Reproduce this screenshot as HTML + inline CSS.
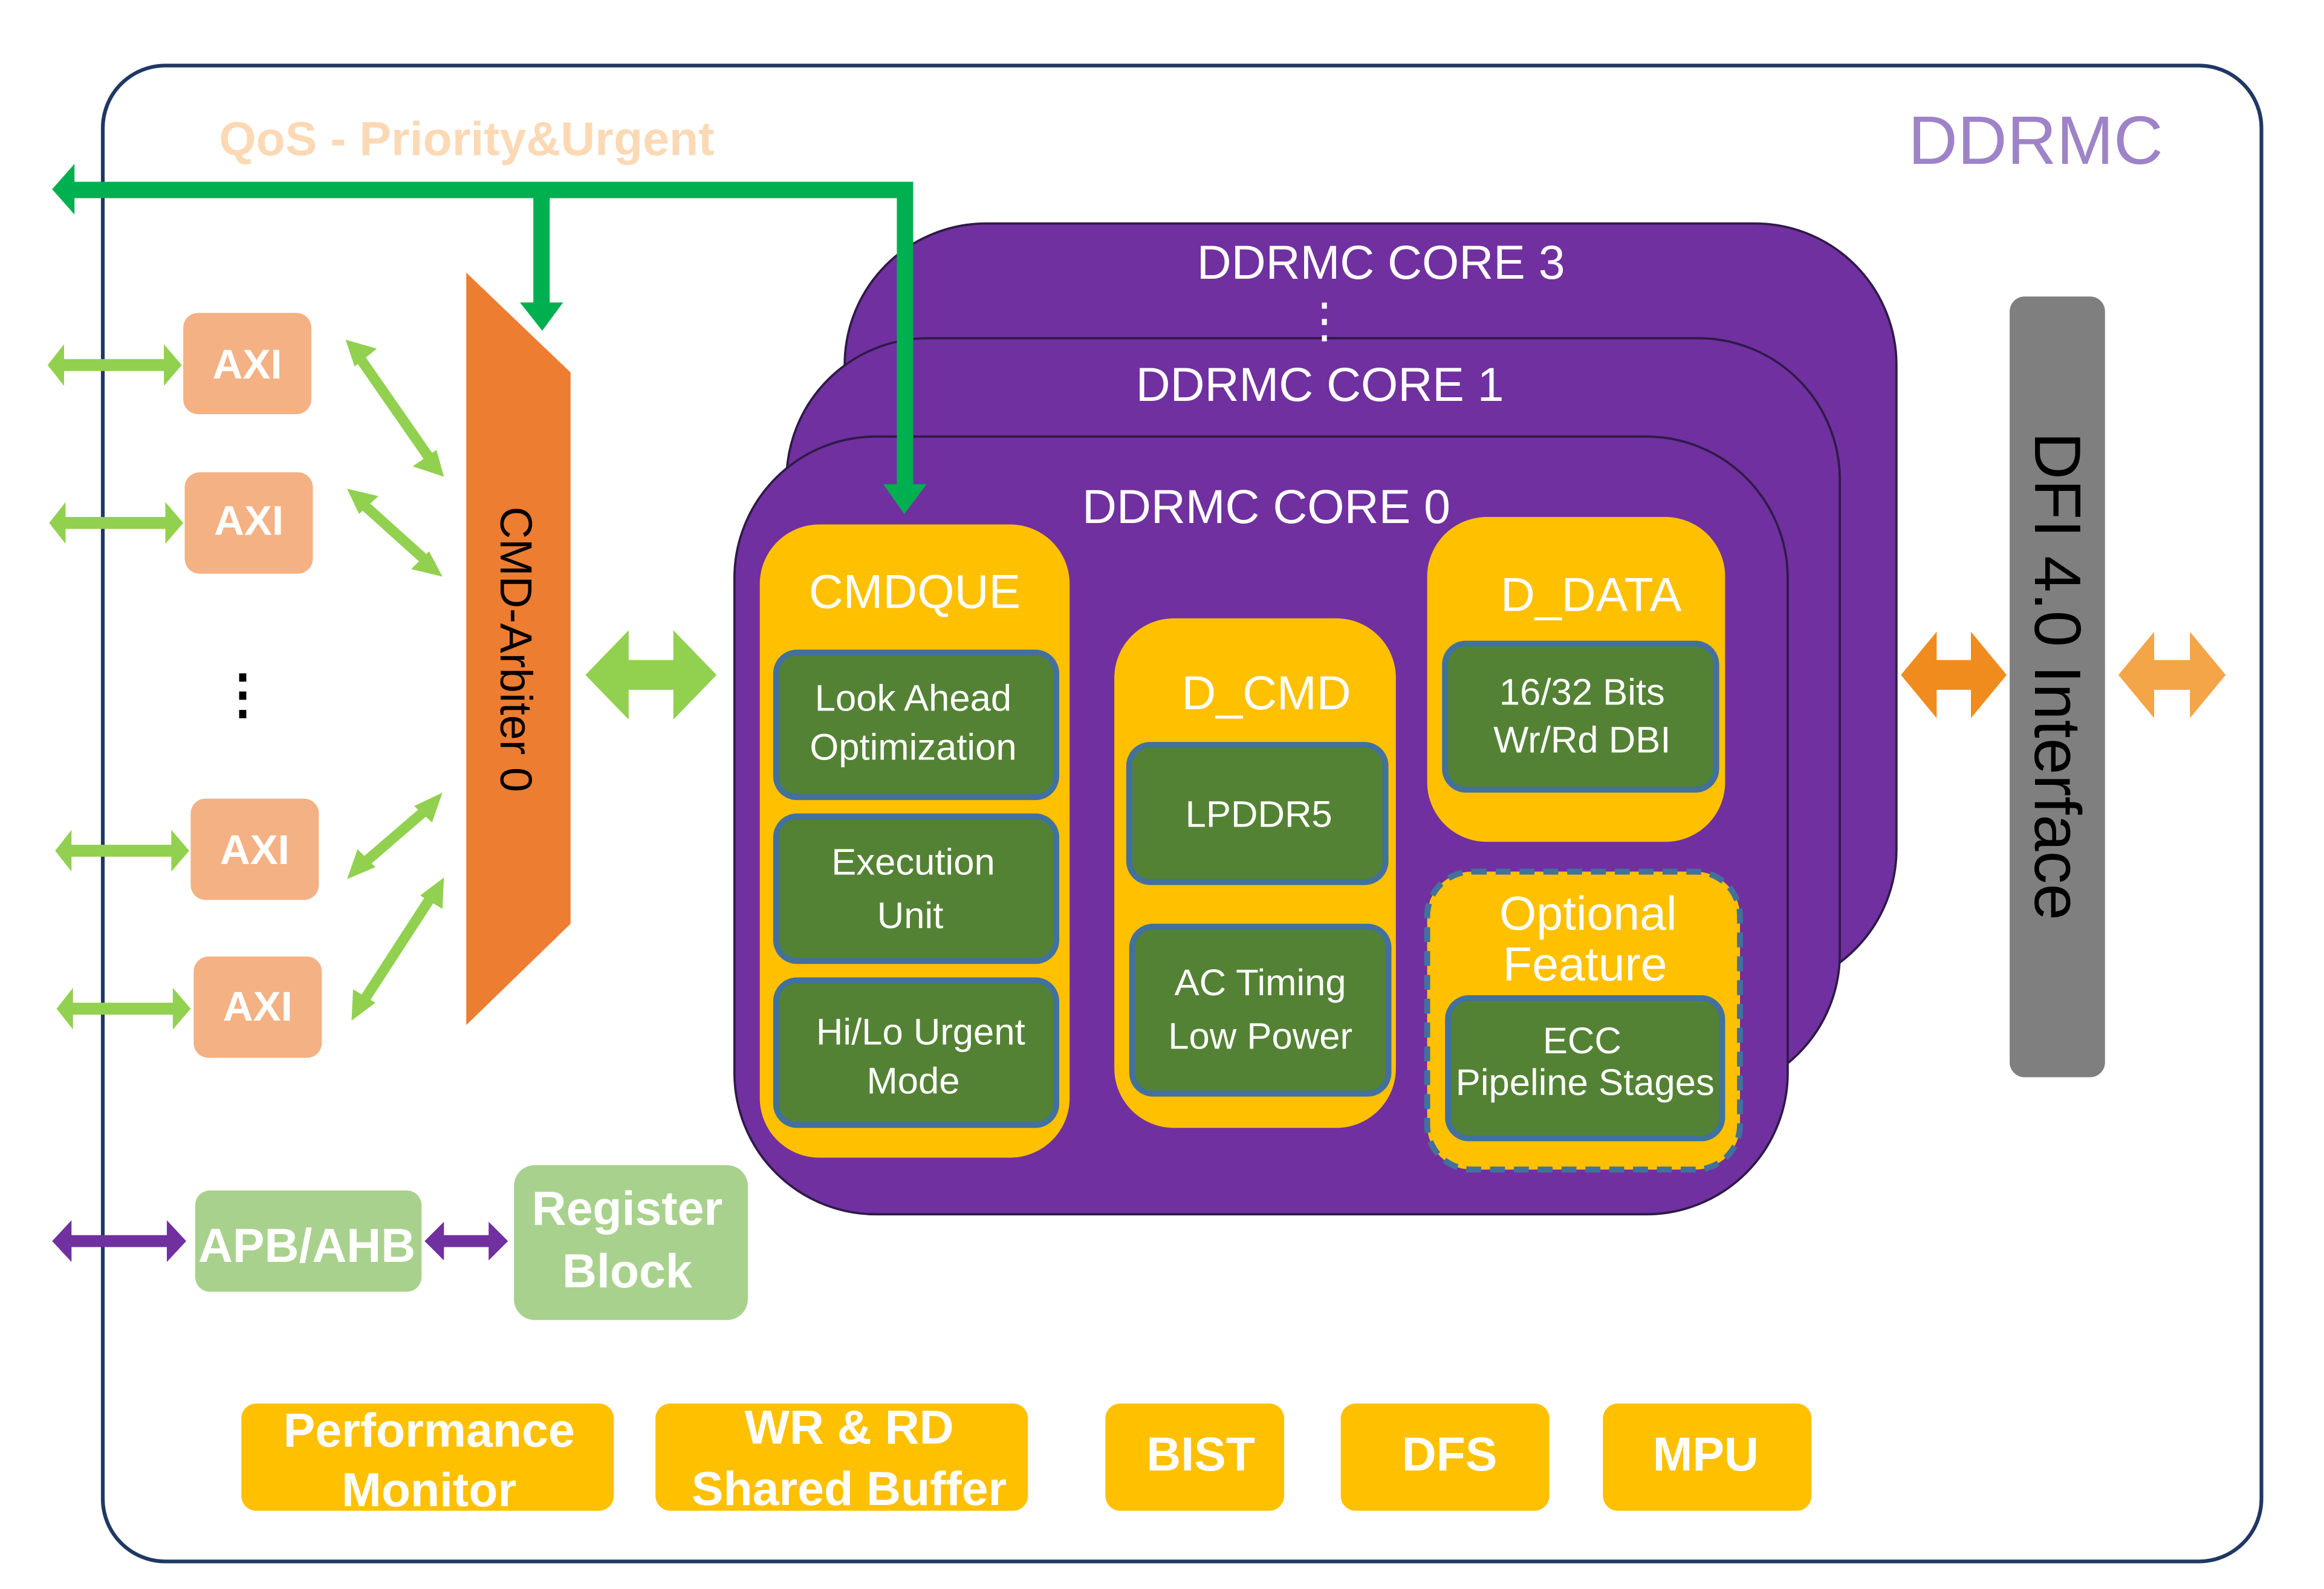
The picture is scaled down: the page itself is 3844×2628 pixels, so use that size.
<!DOCTYPE html>
<html><head><style>html,body{margin:0;padding:0;background:#fff}svg{display:block}</style></head>
<body>
<svg width="3844" height="2628" viewBox="0 0 1560 1066.5" preserveAspectRatio="none" xmlns="http://www.w3.org/2000/svg" font-family="Liberation Sans, sans-serif">
<rect x="69" y="44" width="1449" height="1004" rx="42" fill="#fff" stroke="#1f3864" stroke-width="2.5"/>
<text x="1452" y="110" text-anchor="end" font-size="46" fill="#9e83c8">DDRMC</text>
<text x="147" y="104" font-size="32" font-weight="bold" fill="#fcd9b5">QoS - Priority&amp;Urgent</text>

<!-- cores -->
<rect x="567" y="150" width="706" height="515" rx="95" fill="#7030a0" stroke="#2e1a47" stroke-width="1.5"/>
<rect x="528" y="227" width="707" height="508" rx="95" fill="#7030a0" stroke="#2e1a47" stroke-width="1.5"/>
<rect x="493" y="293" width="707" height="522" rx="95" fill="#7030a0" stroke="#2e1a47" stroke-width="1.5"/>
<text x="927" y="187" text-anchor="middle" font-size="32" fill="#fff">DDRMC CORE 3</text>
<text x="889" y="226" text-anchor="middle" font-size="32" fill="#fff">⋮</text>
<text x="886" y="269" text-anchor="middle" font-size="32" fill="#fff">DDRMC CORE 1</text>
<text x="850" y="351" text-anchor="middle" font-size="32" fill="#fff">DDRMC CORE 0</text>

<!-- CMDQUE -->
<rect x="510" y="352" width="208" height="425" rx="40" fill="#ffc000"/>
<text x="614" y="408" text-anchor="middle" font-size="32" fill="#fff">CMDQUE</text>
<g fill="#548235" stroke="#41719c" stroke-width="4">
<rect x="521" y="438" width="188" height="97" rx="14"/>
<rect x="521" y="548" width="188" height="97" rx="14"/>
<rect x="521" y="658" width="188" height="97" rx="14"/>
<rect x="758" y="500" width="172" height="92" rx="14"/>
<rect x="760" y="622" width="172" height="112" rx="14"/>
</g>
<g font-size="25" fill="#fff" text-anchor="middle">
<text x="613" y="477">Look Ahead</text><text x="613" y="510">Optimization</text>
<text x="613" y="587">Execution</text><text x="611" y="623">Unit</text>
<text x="618" y="701">Hi/Lo Urgent</text><text x="613" y="734">Mode</text>
</g>

<!-- D_CMD -->
<rect x="748" y="415" width="189" height="342" rx="40" fill="#ffc000"/>
<g fill="#548235" stroke="#41719c" stroke-width="4">
<rect x="758" y="500" width="172" height="92" rx="14"/>
<rect x="760" y="622" width="172" height="112" rx="14"/>
</g>
<text x="850" y="476" text-anchor="middle" font-size="32" fill="#fff">D_CMD</text>
<g font-size="25" fill="#fff" text-anchor="middle">
<text x="845" y="555">LPDDR5</text>
<text x="846" y="668">AC Timing</text><text x="846" y="704">Low Power</text>
</g>

<!-- D_DATA -->
<rect x="958" y="347" width="200" height="218" rx="40" fill="#ffc000"/>
<text x="1068" y="410" text-anchor="middle" font-size="32" fill="#fff">D_DATA</text>
<rect x="970" y="432" width="182" height="98" rx="14" fill="#548235" stroke="#41719c" stroke-width="4"/>
<g font-size="25" fill="#fff" text-anchor="middle">
<text x="1062" y="473">16/32 Bits</text><text x="1062" y="505">Wr/Rd DBI</text>
</g>

<!-- Optional -->
<rect x="958" y="585" width="210" height="200" rx="30" fill="#ffc000" stroke="#41719c" stroke-width="4" stroke-dasharray="10 6"/>
<text x="1066" y="624" text-anchor="middle" font-size="32" fill="#fff">Optional</text>
<text x="1064" y="658" text-anchor="middle" font-size="32" fill="#fff">Feature</text>
<rect x="972" y="670" width="184" height="94" rx="14" fill="#548235" stroke="#41719c" stroke-width="4"/>
<g font-size="25" fill="#fff" text-anchor="middle">
<text x="1062" y="707">ECC</text><text x="1064" y="735">Pipeline  Stages</text>
</g>

<!-- DFI -->
<rect x="1349" y="199" width="64" height="524" rx="10" fill="#7f7f7f"/>
<text transform="translate(1366,290) rotate(90)" font-size="44" fill="#000">DFI 4.0 Interface</text>
<polygon points="1276,453 1300,424 1300,443 1323,443 1323,424 1347,453 1323,482 1323,463 1300,463 1300,482" fill="#f08c1e"/>
<polygon points="1422,453 1446,424 1446,443 1470,443 1470,424 1494,453 1470,482 1470,463 1446,463 1446,482" fill="#f4a548"/>

<!-- Arbiter -->
<polygon points="313,183 383,250 383,620 313,688" fill="#ed7d31"/>
<text transform="translate(336,340) rotate(90)" font-size="30" fill="#000">CMD-Arbiter 0</text>
<polygon points="393,453 422,423 422,443 452,443 452,423 481,453 452,483 452,463 422,463 422,483" fill="#92d050"/>

<!-- QoS green -->
<g fill="#00b050">
<rect x="48" y="122" width="565" height="11"/>
<polygon points="35,127 50,110 50,144"/>
<rect x="358" y="127" width="11" height="78"/>
<polygon points="349,203 378,203 364,222"/>
<rect x="602" y="127" width="11" height="200"/>
<polygon points="593,325 622,325 607,345"/>
</g>

<!-- AXI -->
<g fill="#f4b183">
<rect x="123" y="210" width="86" height="68" rx="10"/>
<rect x="124" y="317" width="86" height="68" rx="10"/>
<rect x="128" y="536" width="86" height="68" rx="10"/>
<rect x="130" y="642" width="86" height="68" rx="10"/>
</g>
<g font-size="28" font-weight="bold" fill="#fff" text-anchor="middle">
<text x="166" y="254">AXI</text><text x="167" y="359">AXI</text>
<text x="171" y="580">AXI</text><text x="173" y="685">AXI</text>
</g>
<text x="163" y="478" text-anchor="middle" font-size="36" font-weight="bold" fill="#000">⋮</text>
<g fill="#92d050">
<polygon points="32,245 43,231 43,241 110,241 110,231 122,245 110,259 110,249 43,249 43,259"/>
<polygon points="33,351 44,337 44,347 111,347 111,337 123,351 111,365 111,355 44,355 44,365"/>
<polygon points="37,571 48,557 48,567 115,567 115,557 127,571 115,585 115,575 48,575 48,585"/>
<polygon points="38,677 49,663 49,673 116,673 116,663 128,677 116,691 116,681 49,681 49,691"/>
</g>
<g stroke="#92d050" stroke-width="7" fill="none">
<line x1="240" y1="238" x2="290" y2="310"/>
<line x1="240" y1="335" x2="290" y2="380"/>
<line x1="240" y1="583" x2="290" y2="540"/>
<line x1="242" y1="675" x2="292" y2="598"/>
</g>
<g fill="#92d050">
<polygon points="232,228 253,234 238,246"/><polygon points="298,320 277,313 293,302"/>
<polygon points="233,328 254,333 241,345"/><polygon points="297,387 276,382 288,370"/>
<polygon points="233,590 240,570 252,582"/><polygon points="297,532 290,552 278,541"/>
<polygon points="236,685 237,664 252,673"/><polygon points="298,589 297,610 282,601"/>
</g>

<!-- APB -->
<rect x="131" y="799" width="152" height="68" rx="10" fill="#a9d18e"/>
<text x="206" y="847" text-anchor="middle" font-size="32" font-weight="bold" fill="#fff">APB/AHB</text>
<rect x="345" y="782" width="157" height="104" rx="14" fill="#a9d18e"/>
<text x="421" y="822" text-anchor="middle" font-size="32" font-weight="bold" fill="#fff">Register</text>
<text x="421" y="864" text-anchor="middle" font-size="32" font-weight="bold" fill="#fff">Block</text>
<g fill="#7030a0">
<polygon points="35,833 48,819 48,829 112,829 112,819 125,833 112,847 112,837 48,837 48,847"/>
<polygon points="285,833 298,820 298,829 328,829 328,820 341,833 328,846 328,837 298,837 298,846"/>
</g>

<!-- bottom -->
<g fill="#ffc000">
<rect x="162" y="942" width="250" height="72" rx="10"/>
<rect x="440" y="942" width="250" height="72" rx="10"/>
<rect x="742" y="942" width="120" height="72" rx="10"/>
<rect x="900" y="942" width="140" height="72" rx="10"/>
<rect x="1076" y="942" width="140" height="72" rx="10"/>
</g>
<g font-size="32" font-weight="bold" fill="#fff" text-anchor="middle">
<text x="288" y="971">Performance</text><text x="288" y="1011">Monitor</text>
<text x="570" y="969">WR &amp; RD</text><text x="570" y="1010">Shared Buffer</text>
<text x="806" y="987">BIST</text>
<text x="973" y="987">DFS</text>
<text x="1145" y="987">MPU</text>
</g>
</svg>
</body></html>
